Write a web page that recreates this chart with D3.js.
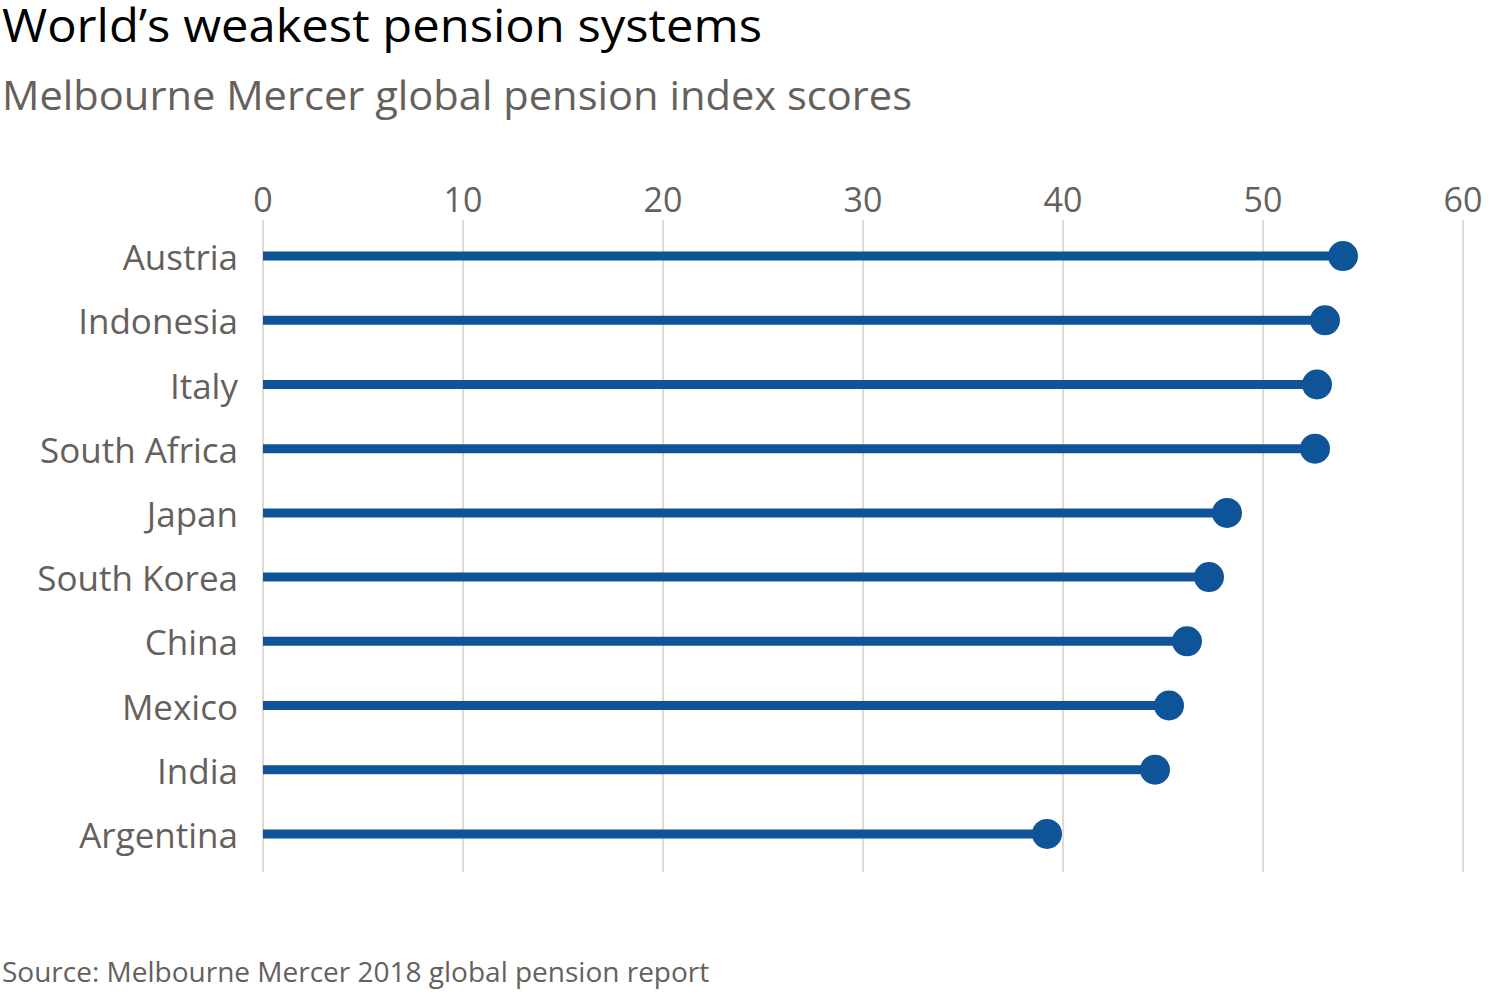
<!DOCTYPE html>
<meta charset="utf-8">
<style>
body { margin:0; background:#fff; font-family: "Open Sans", sans-serif; }
text { font-family: "Open Sans", sans-serif; }
</style>
<body>
<script src="https://cdn.jsdelivr.net/npm/d3@7"></script>
<script>
var countries = ["Austria","Indonesia","Italy","South Africa","Japan","South Korea","China","Mexico","India","Argentina"];
var scores = [54.0, 53.1, 52.7, 52.6, 48.2, 47.3, 46.2, 45.3, 44.6, 39.2];
var ticks = [0, 10, 20, 30, 40, 50, 60];

var svg = d3.select("body").append("svg").attr("width", 1500).attr("height", 1000);

var x = d3.scaleLinear().domain([0, 60]).range([263, 1463]);
var y = d3.scaleBand().domain(countries).range([224, 866]);

svg.append("text").attr("x", 2).attr("y", 42).attr("font-size", 46).attr("fill", "#000")
    .attr("textLength", 760).attr("lengthAdjust", "spacingAndGlyphs")
    .text("World\u2019s weakest pension systems");
svg.append("text").attr("x", 2).attr("y", 110).attr("font-size", 41).attr("fill", "#66605c")
    .attr("textLength", 910).attr("lengthAdjust", "spacingAndGlyphs")
    .text("Melbourne Mercer global pension index scores");

// grid + ticks
svg.selectAll(".grid").data(ticks).enter().append("line")
    .attr("x1", d => x(d)).attr("x2", d => x(d))
    .attr("y1", 220).attr("y2", 872)
    .attr("stroke", "#e3d9cf").attr("stroke-width", 2);
svg.selectAll(".tick").data(ticks).enter().append("text")
    .attr("x", d => x(d)).attr("y", 212).attr("text-anchor", "middle")
    .attr("font-size", 34).attr("fill", "#66605c").text(d => d);

var rows = countries.map((c, i) => ({c: c, v: scores[i]}));

svg.selectAll(".lbl").data(rows).enter().append("text")
    .attr("x", 238).attr("y", d => y(d.c) + y.bandwidth() / 2 + 14)
    .attr("text-anchor", "end").attr("font-size", 35).attr("fill", "#66605c")
    .text(d => d.c);

svg.selectAll(".stem").data(rows).enter().append("line")
    .attr("x1", x(0)).attr("x2", d => x(d.v))
    .attr("y1", d => y(d.c) + y.bandwidth() / 2).attr("y2", d => y(d.c) + y.bandwidth() / 2)
    .attr("stroke", "#0f5499").attr("stroke-width", 9);
svg.selectAll(".dot").data(rows).enter().append("circle")
    .attr("cx", d => x(d.v)).attr("cy", d => y(d.c) + y.bandwidth() / 2)
    .attr("r", 15).attr("fill", "#0f5499");

svg.append("text").attr("x", 2).attr("y", 982).attr("font-size", 28).attr("fill", "#66605c")
    .text("Source: Melbourne Mercer 2018 global pension report");
</script>
</body>
